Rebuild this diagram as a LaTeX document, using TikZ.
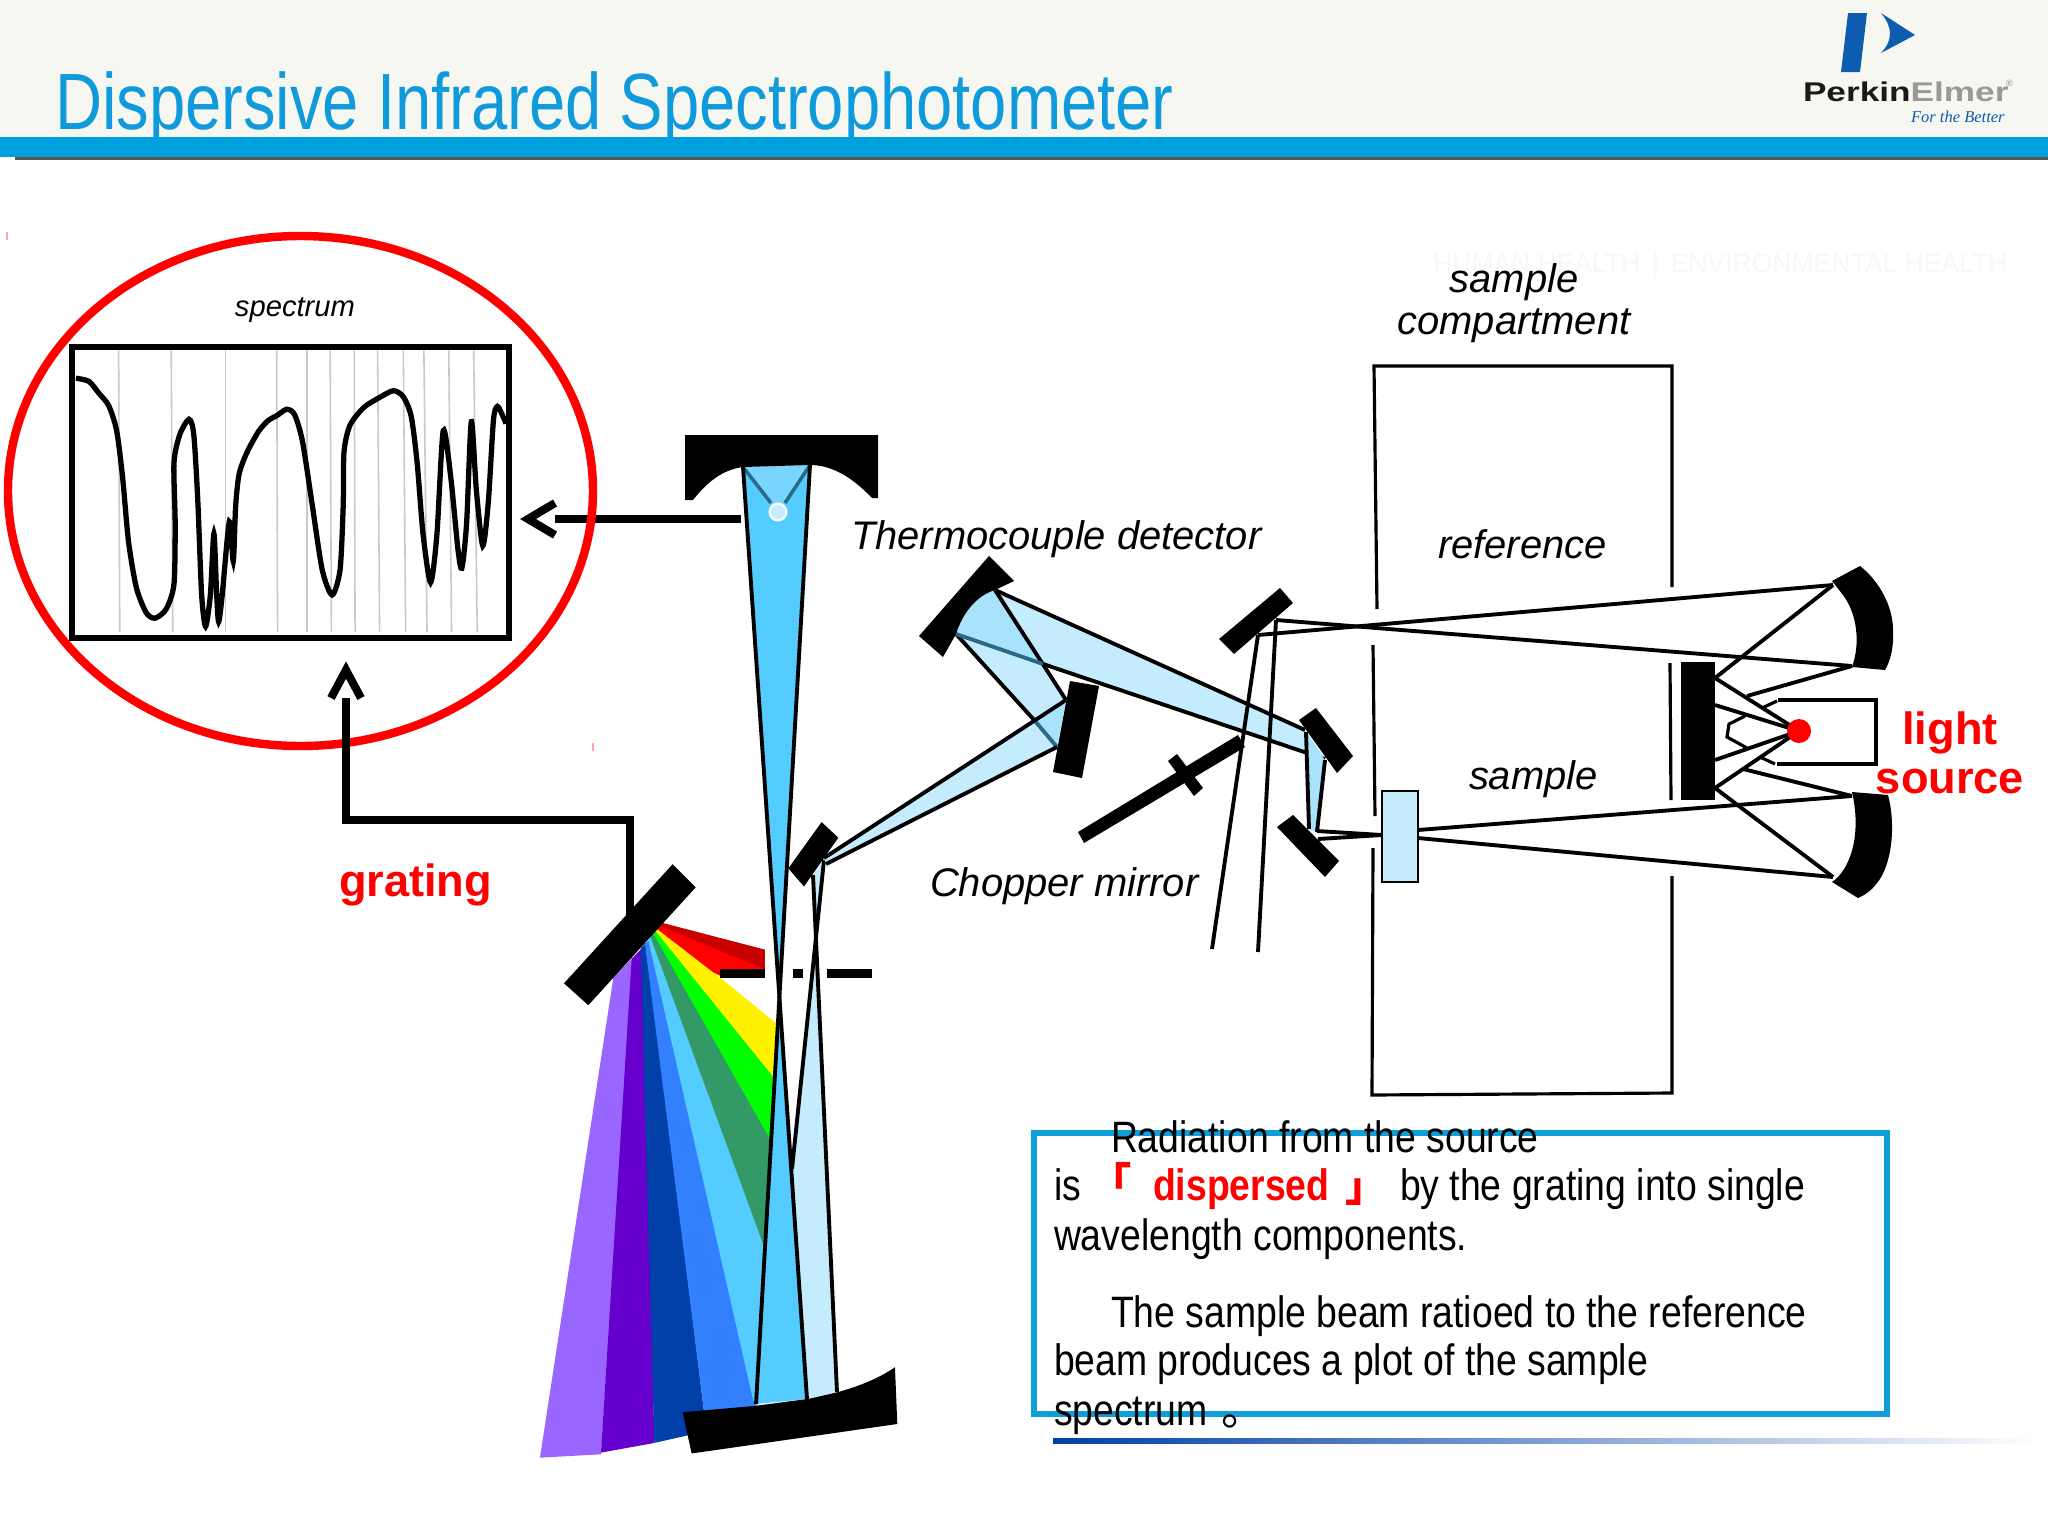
\documentclass[tikz,border=0pt]{standalone}
\usepackage{fontspec}
\setmainfont{Liberation Sans}
\newfontfamily\condf[FakeStretch=0.85]{Liberation Sans}
\newfontfamily\titlef[FakeStretch=0.816]{Liberation Sans}
\newfontfamily\widef[FakeStretch=1.3]{Liberation Sans}
\newfontfamily\serf{Liberation Serif}
\newfontfamily\cjkf{Noto Sans CJK SC}
\definecolor{headbg}{HTML}{F7F7F1}
\definecolor{barblue}{HTML}{00A0DF}
\definecolor{titleblue}{HTML}{0F9ADB}
\definecolor{logoblue}{HTML}{0D5CB0}
\definecolor{beamc}{HTML}{55CCFF}
\definecolor{beamtop}{HTML}{77D5FF}
\definecolor{beaml}{HTML}{C5ECFD}
\definecolor{beamo}{HTML}{A8E2FB}
\definecolor{teal}{HTML}{2A6A85}
\definecolor{boxblue}{HTML}{0F9FD8}
\definecolor{gridg}{HTML}{C8C8D0}
\definecolor{fdarkred}{HTML}{C80000}
\definecolor{fsea}{HTML}{339966}
\definecolor{flblue}{HTML}{55CCFF}
\definecolor{fblue}{HTML}{3380FF}
\definecolor{fdblue}{HTML}{0040A8}
\definecolor{fpurple}{HTML}{6600CC}
\definecolor{flpurple}{HTML}{9966FF}
\tikzset{
 ray/.style={draw=black,line width=1.1pt},
 thin ray/.style={draw=black,line width=0.9pt},
 wallline/.style={draw=black,line width=0.9pt},
 mirror/.style={fill=black,draw=none},
 thick arrow/.style={draw=black,line width=2.4pt},
 open tip/.style={draw=black,line width=2.3pt,miter limit=10},
 lab/.style={anchor=base west,inner sep=0pt,outer sep=0pt},
 labc/.style={anchor=base,inner sep=0pt,outer sep=0pt},
 ital/.style={font=\fontsize{11.35pt}{11.35pt}\itshape},
 redlab/.style={text=red,font=\fontsize{12.85pt}{12.85pt}\bfseries},
 body/.style={lab,font=\fontsize{12.5pt}{12.5pt}\condf},
}
\begin{document}
\begin{tikzpicture}[x=0.01cm,y=-0.01cm]
\useasboundingbox (0,0) rectangle (2048,1536);
\fill[white] (0,0) rectangle (2048,1536);
% header
\fill[headbg] (0,0) rectangle (2048,137);
\node[lab,text=titleblue,font=\fontsize{22.7pt}{22.7pt}\titlef] (title) at (55,129) {Dispersive Infrared Spectrophotometer};
\fill[barblue] (0,137) rectangle (2048,157);
\fill[black!65] (15,157) rectangle (2048,160);
% logo
\fill[logoblue] (1848,13) -- (1867,13) -- (1860,72) -- (1841,72) -- cycle;
\fill[logoblue] (1881,13) -- (1915,35) -- (1881,53) .. controls (1893,40) and (1893,28) .. (1881,13) -- cycle;
\node[lab,font=\fontsize{7.7pt}{7.7pt}\widef\bfseries] (logo) at (1803,101) {\textcolor{black!90}{Perkin}\textcolor{black!40}{Elmer}};
\node[lab,text=black!45,font=\fontsize{2.6pt}{2.6pt}\selectfont] (reg) at (2006,86) {®};
\node[lab,text=logoblue,font=\fontsize{4.7pt}{4.7pt}\serf\itshape] (tag) at (1911,122) {For the Better};
% faint line behind the label
\node[lab,text=black!3,font=\fontsize{7.6pt}{7.6pt}\selectfont] (faint) at (1433,272) {\resizebox{5.74cm}{!}{HUMAN HEALTH \,|\, ENVIRONMENTAL HEALTH}};
% specks
\draw[red!35,line width=0.3pt] (7,232) -- (7,240) (593,743) -- (593,751);
% spectrum box
\begin{scope}[shift={(0,220)},xscale=0.3954,yscale=0.3571]
\foreach \a/\b in {300/303,433/437,570/570,700/702,776/776,835/838,896/898,955/960,1020/1026,1072/1080,1135/1142,1198/1207}
  \draw[gridg,line width=0.45pt] (\a,365) -- (\b,1155);
\draw[black,line width=1.5pt] plot[smooth,tension=0.45] coordinates {(192,443)(225,452)(250,485)(275,520)(295,590)(310,720)(325,900)(345,1030)(370,1100)(392,1115)(420,1090)(440,1020)(443,850)(440,680)(455,600)(478,558)(490,600)(500,780)(510,1050)(520,1138)(532,1050)(541,878)(548,1050)(553,1125)(562,1050)(580,845)(590,955)(596,800)(605,710)(625,650)(655,590)(680,560)(700,548)(725,530)(745,545)(765,620)(790,800)(815,980)(840,1050)(860,980)(868,800)(870,650)(885,575)(920,525)(960,497)(995,478)(1020,495)(1040,550)(1055,680)(1070,880)(1089,1015)(1105,880)(1121,590)(1140,720)(1158,920)(1168,975)(1180,850)(1192,565)(1205,760)(1221,912)(1235,790)(1248,560)(1258,522)(1270,545)(1280,570)};
\end{scope}
\draw[black,line width=1.5pt] (72,347) rectangle (509,638);
\node[labc,font=\fontsize{8.3pt}{8.3pt}\itshape] (spec) at (295,316) {spectrum};
% arrow to the box from detector
\coordinate (arrR) at (555,519);
\coordinate (detL) at (741,519);
\draw[thick arrow] (arrR) -- (detL);
\draw[open tip] (555,503) -- (528,519) -- (555,535);
\draw[red,line width=2.4pt] (300.5,491) ellipse [x radius=292.5,y radius=255];
% arrow up from grating
\coordinate (up1) at (346,698);
\coordinate (up2) at (346,820);
\coordinate (up3) at (630,820);
\coordinate (up4) at (630,915);
\draw[thick arrow,line join=miter] (up1) -- (up2) -- (up3) -- (up4);
\draw[open tip] (331,698) -- (346,670) -- (361,698);
% colour fan
\begin{scope}[shift={(520,820)},xscale=0.3333,yscale=0.4209]
\fill[flpurple] (280,375) -- (340,325) -- (243,1507) -- (60,1515) -- cycle;
\fill[fpurple] (335,330) -- (372,300) -- (403,1480) -- (243,1503) -- cycle;
\fill[fdblue] (362,305) -- (380,290) -- (552,1405) -- (503,1462) -- (403,1480) -- cycle;
\fill[fblue] (375,295) -- (392,280) -- (710,1393) -- (552,1405) -- cycle;
\fill[flblue] (385,285) -- (395,275) -- (740,1010) -- (712,1390) -- (700,1380) -- cycle;
\fill[fsea] (390,275) -- (402,265) -- (755,750) -- (733,1015) -- cycle;
\fill[green] (400,270) -- (408,262) -- (765,605) -- (750,758) -- cycle;
\fill[yellow] (405,262) -- (415,255) -- (775,487) -- (762,612) -- cycle;
\fill[red] (410,258) -- (425,250) -- (735,352) -- (735,370) -- (600,370) -- (580,362) -- cycle;
\fill[fdarkred] (415,250) -- (430,245) -- (735,308) -- (735,354) -- cycle;
\end{scope}
% beams in the monochromator
\coordinate (tl) at (743,467);
\coordinate (tr) at (810,465);
\coordinate (cross) at (780,997);
\coordinate (bl) at (756,1404);
\coordinate (br) at (807,1399);
\coordinate (sa) at (813,875);
\coordinate (sb) at (824,860);
\coordinate (sc) at (816,955);
\coordinate (sd) at (792,1169);
\coordinate (se) at (837,1392);
\fill[beamc] (tl) -- (tr) -- (cross) -- cycle;
\fill[beamc] (cross) -- (br) -- (bl) -- cycle;
\fill[beamtop] (tl) -- (tr) -- (785,503) -- (771,503) -- cycle;
\draw[teal,line width=1pt] (tl) -- (771,503) (tr) -- (785,503);
\fill[beaml] (sa) -- (sb) -- (sc) -- cycle;
\fill[beaml] (sc) -- (sd) -- (br) -- (se) -- cycle;
\draw[ray] (tl) -- (br);
\draw[ray] (tr) -- (bl);
\draw[ray] (sa) -- (se);
\draw[ray] (sb) -- (sd);
% beams to the detector side
\coordinate (A) at (995,590);
\coordinate (B) at (956,634);
\coordinate (C) at (1066,700);
\coordinate (D) at (1035,721);
\coordinate (E) at (1057,747);
\coordinate (F) at (1305,730);
\coordinate (G) at (1325,759);
\coordinate (H) at (1043,664);
\coordinate (sm1) at (824,858);
\coordinate (sm2) at (826,864);
\fill[beaml] (A) -- (F) -- (G) -- (B) -- cycle;
\fill[beamo] (A) .. controls (975,596) and (962,615) .. (B) -- (H) -- cycle;
\fill[beaml] (B) -- (H) -- (C) -- (D) -- cycle;
\fill[beaml] (sm1) -- (C) -- (E) -- (sm2) -- cycle;
\fill[beamo] (D) -- (C) -- (E) -- cycle;
\draw[ray] (A) -- (C);
\draw[ray] (B) -- (D);
\draw[teal,line width=1.1pt] (D) -- (E);
\draw[teal,line width=1.1pt] (B) -- (H);
\draw[ray] (H) -- (G);
\draw[ray] (A) -- (F);
\draw[ray] (C) -- (sm1);
\draw[ray] (E) -- (sm2);
% small beam between mirrors and sample
\coordinate (m1) at (1306,732);
\coordinate (m2) at (1325,760);
\coordinate (m3) at (1317,832);
\coordinate (m4) at (1309,829);
\fill[beamo] (m1) -- (m2) -- (m3) -- (m4) -- cycle;
\draw[ray] (m1) -- (m4);
\draw[ray] (m2) -- (m3);
\coordinate (samL) at (1382,835);
\draw[ray] (1317,831) -- (samL);
\draw[ray] (1318,839) -- (samL);
% reference rays and vertical rays
\coordinate (rm1) at (1276,620);
\coordinate (rm2) at (1258,635);
\coordinate (um1) at (1833,585);
\coordinate (um2) at (1852,666);
\draw[ray] (rm1) -- (um2);
\draw[ray] (rm2) -- (um1);
\draw[ray] (rm2) -- (1212,949);
\draw[ray] (rm1) -- (1258,952);
% compartment
\draw[wallline] (1377,609) -- (1374,366) -- (1672,366) -- (1672,587);
\draw[wallline] (1373,645) -- (1375,816);
\draw[wallline] (1373,848) -- (1372,1095) -- (1672,1093) -- (1672,876);
\draw[wallline] (1670,663) -- (1671,800);
% sample cell
\node[draw=black,fill=beaml,line width=0.7pt,minimum width=0.36cm,minimum height=0.91cm,inner sep=0pt] (cell) at (1400,836.5) {};
% sample rays
\coordinate (lm1) at (1852,796);
\coordinate (lm2) at (1833,877);
\draw[ray] (1418,830) -- (lm1);
\draw[ray] (1418,838) -- (lm2);
% source lines
\coordinate (s1) at (1715,678);
\coordinate (s2) at (1715,705);
\coordinate (s3) at (1715,760);
\coordinate (s4) at (1715,788);
\coordinate (lamp) at (1799,731);
\draw[ray] (lamp) -- (s1);
\draw[ray] (lamp) -- (s2);
\draw[ray] (lamp) -- (s3);
\draw[ray] (lamp) -- (s4);
\draw[ray] (s1) -- (um1);
\draw[ray] (s4) -- (lm2);
\draw[ray] (1747,696) -- (um2);
\draw[ray] (1743,769) -- (lm1);
\draw[thin ray] (1778,700) -- (1876,700) -- (1876,764) -- (1777,764);
\draw[thin ray] (1777,701) -- (1762,708);
\draw[thin ray] (1745,716) -- (1729,724) -- (1727,737) -- (1747,748);
\draw[thin ray] (1760,757) -- (1775,764);
\fill[red] (lamp) circle (12);
\fill[black] (1681,662) rectangle (1715,800);
% mirrors
\fill[mirror] (685,435) -- (878,435) -- (878,498) -- (872,498) .. controls (850,475) and (830,465) .. (810,465) -- (743,467) .. controls (720,470) and (705,485) .. (693,500) -- (685,500) -- cycle;
\fill[white] (778,512) circle (9.5);
\fill[beaml] (778,512) circle (7);
\fill[mirror] (989,556) -- (1014,581) -- (995,590) .. controls (975,596) and (962,615) .. (956,634) -- (943,657) -- (919,636) -- cycle;
\fill[mirror] (1070,681) -- (1099,686) -- (1082,778) -- (1053,772) -- cycle;
\fill[mirror] (1238,735) -- (1245,747) -- (1084,843) -- (1078,832) -- cycle;
\fill[mirror] (1177,754) -- (1203,788) -- (1194,796) -- (1168,761) -- cycle;
\fill[mirror] (1280,588) -- (1293,603) -- (1234,654) -- (1219,639) -- cycle;
\fill[mirror] (1316,708) -- (1353,756) -- (1337,773) -- (1299,720) -- cycle;
\fill[mirror] (1293,815) -- (1339,861) -- (1325,877) -- (1277,827) -- cycle;
\fill[mirror] (1832,581) -- (1860,566) .. controls (1878,580) and (1893,605) .. (1893,630) .. controls (1894,645) and (1891,660) .. (1885,670) -- (1852,667) .. controls (1860,645) and (1858,615) .. (1843,595) -- cycle;
\fill[mirror] (1852,792) -- (1888,795) .. controls (1896,825) and (1892,865) .. (1877,883) .. controls (1872,890) and (1865,895) .. (1858,898) -- (1832,882) .. controls (1850,870) and (1862,835) .. (1852,792) -- cycle;
\begin{scope}[shift={(520,820)},xscale=0.3333,yscale=0.4209]
\fill[mirror] (905,5) -- (955,42) -- (852,158) -- (805,115) -- cycle;
\fill[mirror] (458,105) -- (527,160) -- (205,440) -- (132,388) -- cycle;
\fill[mirror] (488,1407) -- (705,1392) -- (868,1375) -- (950,1360) .. controls (1020,1345) and (1080,1325) .. (1125,1300) -- (1132,1435) -- (515,1505) -- cycle;
\fill[black] (600,353) rectangle (735,375);
\fill[black] (818,353) rectangle (848,375);
\fill[black] (920,353) rectangle (1055,375);
\end{scope}
% labels
\node[lab,ital] (det) at (851,549) {Thermocouple detector};
\node[labc,ital] (comp1) at (1514,292) {sample};
\node[labc,ital] (comp2) at (1514,334) {compartment};
\node[lab,ital] (refl) at (1438,558) {reference};
\node[lab,ital] (saml) at (1469,789) {sample};
\node[lab,ital] (chop) at (930,896) {Chopper mirror};
\node[lab,redlab] (grat) at (339,896) {grating};
\node[labc,redlab] (lsa) at (1950,744) {light};
\node[labc,redlab] (lsb) at (1950,793) {source};
% text box
\draw[boxblue,line width=1.55pt] (1034,1133) rectangle (1887,1414);
\shade[left color=fdblue,right color=white] (1053,1438) rectangle (2040,1443);
\node[body] (t1) at (1111,1152) {Radiation from the source};
\node[body] (t2a) at (1054,1200) {is};
\node[lab,text=red,font=\fontsize{12pt}{12pt}\cjkf\bfseries] (t2b) at (1089,1198) {「};
\node[body,text=red,font=\fontsize{12.5pt}{12.5pt}\condf\bfseries] (t2c) at (1153,1200) {dispersed};
\node[lab,text=red,font=\fontsize{12pt}{12pt}\cjkf\bfseries] (t2d) at (1345,1201) {」};
\node[body] (t2e) at (1400,1200) {by the grating into single};
\node[body] (t3) at (1054,1250) {wavelength components.};
\node[body] (t4) at (1111,1327) {The sample beam ratioed to the reference};
\node[body] (t5) at (1054,1375) {beam produces a plot of the sample};
\node[body] (t6) at (1054,1425) {spectrum\hspace{4pt}{\cjkf 。}};
\end{tikzpicture}
\end{document}
